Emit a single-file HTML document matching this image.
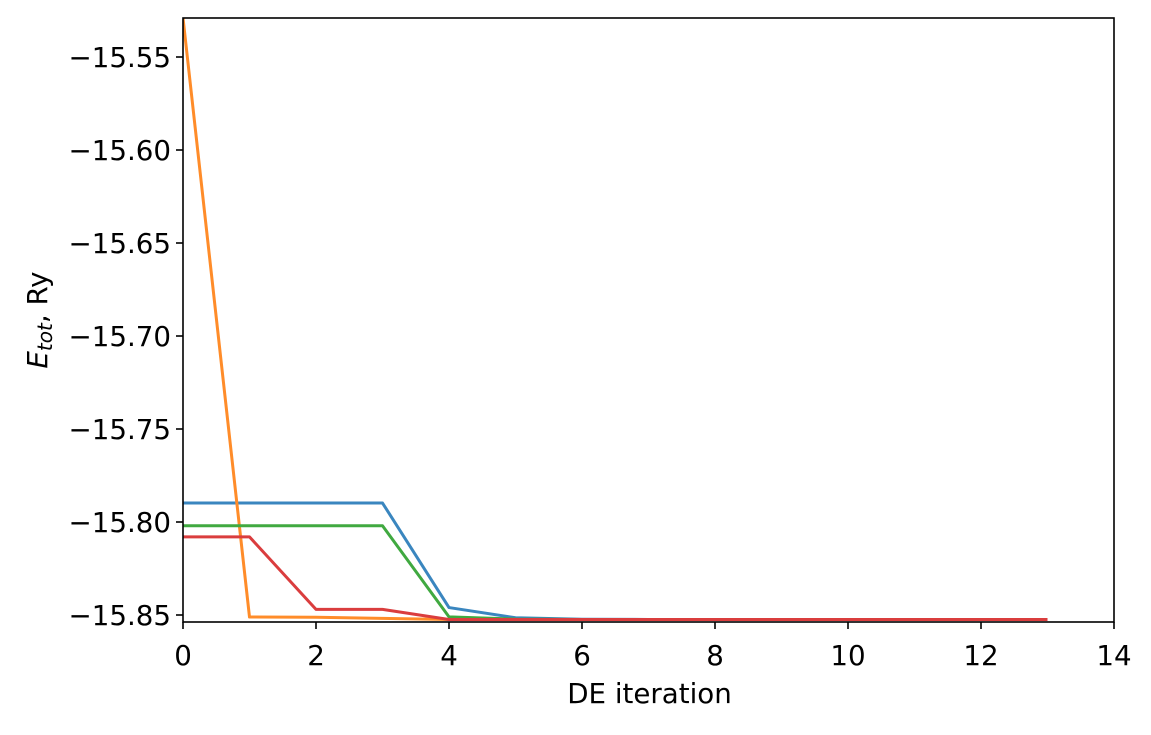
<!DOCTYPE html>
<html><head><meta charset="utf-8"><style>
body{margin:0;background:#fff}
svg text{font-family:"DejaVu Sans","Liberation Sans",sans-serif;font-size:27.7px;fill:#000}
</style></head><body>
<svg width="1151" height="730" viewBox="0 0 1151 730">
<defs><clipPath id="clip"><rect x="183" y="18" width="931" height="604"/></clipPath></defs>
<g id="series" clip-path="url(#clip)"></g>
<rect x="183" y="18" width="931" height="604" fill="none" stroke="#000" stroke-width="1.6"/>
<g id="xticks"></g>
<g id="yticks"></g>
<text x="649.5" y="703" text-anchor="middle">DE iteration</text>
<text transform="translate(47,320) rotate(-90)" text-anchor="middle"><tspan font-style="italic">E</tspan><tspan font-style="italic" font-size="20" dy="5">tot</tspan><tspan dy="-5">, Ry</tspan></text>
</svg>
<script>
const xTicks=[0,2,4,6,8,10,12,14];
const yTicks=[-15.55,-15.60,-15.65,-15.70,-15.75,-15.80,-15.85];
const yTickLabels=["−15.55","−15.60","−15.65","−15.70","−15.75","−15.80","−15.85"];
const iters=[0,1,2,3,4,5,6,7,8,9,10,11,12,13];
const blueVals=[-15.7898,-15.7898,-15.7898,-15.7898,-15.846,-15.8515,-15.8523,-15.8524,-15.8524,-15.8524,-15.8524,-15.8524,-15.8524,-15.8524];
const orangeVals=[-15.529,-15.8511,-15.8512,-15.8518,-15.8524,-15.8524,-15.8524,-15.8524,-15.8524,-15.8524,-15.8524,-15.8524,-15.8524,-15.8524];
const greenVals=[-15.802,-15.802,-15.802,-15.802,-15.851,-15.8522,-15.8524,-15.8524,-15.8524,-15.8524,-15.8524,-15.8524,-15.8524,-15.8524];
const redVals=[-15.808,-15.808,-15.847,-15.847,-15.8524,-15.8524,-15.8524,-15.8524,-15.8524,-15.8524,-15.8524,-15.8524,-15.8524,-15.8524];
const NS="http://www.w3.org/2000/svg";
const xS=v=>183+v*(931/14);
const yS=v=>57+(-15.55-v)*1860;
const xg=document.getElementById('xticks'),yg=document.getElementById('yticks'),sg=document.getElementById('series');
xTicks.forEach(t=>{
 const l=document.createElementNS(NS,'line');
 
 
 l.setAttribute('x1',xS(t));l.setAttribute('x2',xS(t));l.setAttribute('y1',622);l.setAttribute('y2',629);l.setAttribute('stroke','#000');l.setAttribute('stroke-width','1.6');xg.appendChild(l);
 const tx=document.createElementNS(NS,'text');
 
 
 tx.setAttribute('x',xS(t));tx.setAttribute('y',665);tx.setAttribute('text-anchor','middle');tx.textContent=t;xg.appendChild(tx);
});
yTicks.forEach((t,i)=>{
 const l=document.createElementNS(NS,'line');
 
 
 l.setAttribute('x1',176);l.setAttribute('x2',183);l.setAttribute('y1',yS(t));l.setAttribute('y2',yS(t));l.setAttribute('stroke','#000');l.setAttribute('stroke-width','1.6');yg.appendChild(l);
 const tx=document.createElementNS(NS,'text');
 
 
 tx.setAttribute('x',171);tx.setAttribute('y',yS(t)+10);tx.setAttribute('text-anchor','end');tx.textContent=yTickLabels[i];yg.appendChild(tx);
});
[[blueVals,'#3a86bf','line-blue'],[orangeVals,'#ff8c29','line-orange'],[greenVals,'#40a940','line-green'],[redVals,'#da3d3e','line-red']].forEach(([vals,c,n])=>{
 const p=document.createElementNS(NS,'polyline');
 
 
 p.setAttribute('points',vals.map((v,i)=>xS(iters[i])+','+yS(v)).join(' '));
 p.setAttribute('fill','none');p.setAttribute('stroke',c);p.setAttribute('stroke-width','3');p.setAttribute('stroke-linejoin','round');
 sg.appendChild(p);
});
</script>
</body></html>
